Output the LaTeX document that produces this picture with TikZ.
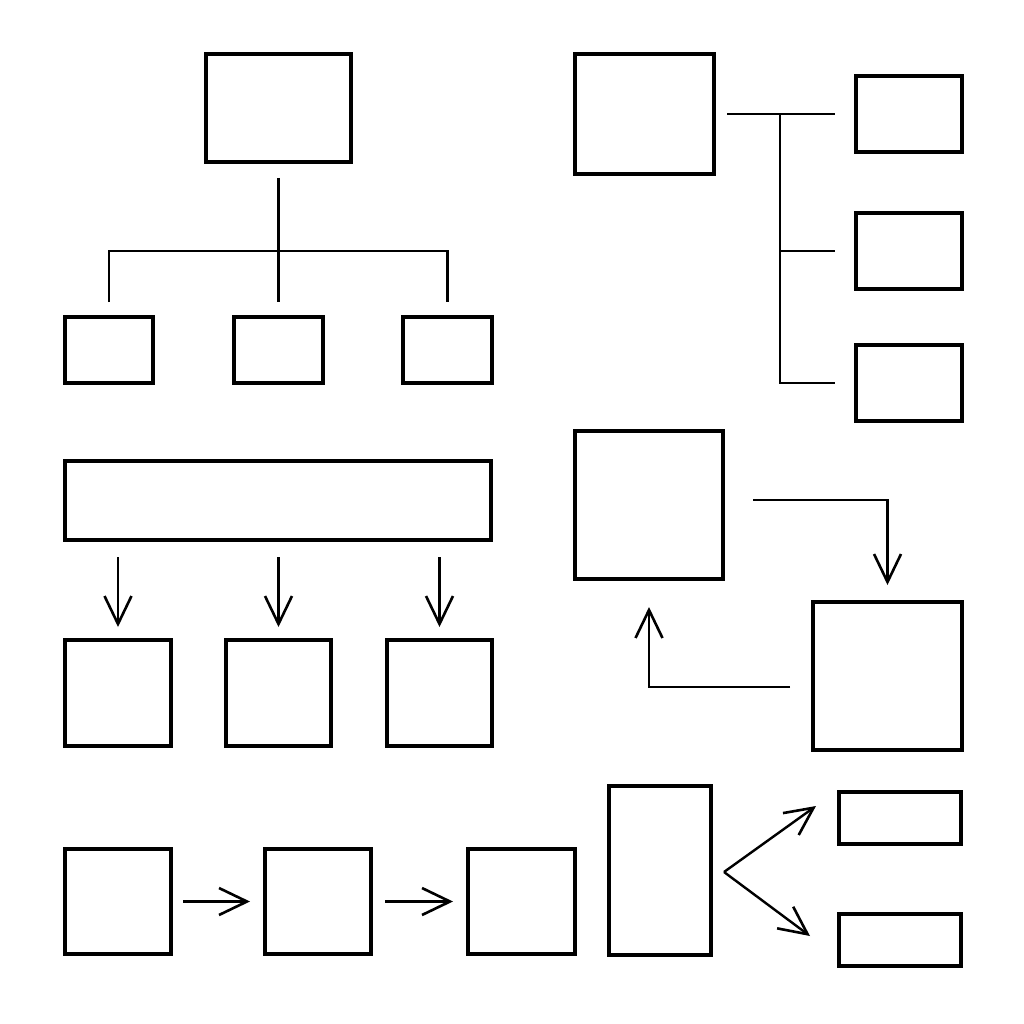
\documentclass[tikz,border=0pt]{standalone}
\usetikzlibrary{arrows.meta}
\begin{document}
\begin{tikzpicture}[x=1pt,y=-1pt,
  box/.style={draw=black,line width=3.1pt,inner sep=0pt,outer sep=0pt,anchor=north west},
  conn/.style={draw=black,line width=2.4pt},
  arr/.style={conn,-{Straight Barb[length=28pt,width=27pt,line width=2.6pt]}}]
\useasboundingbox[fill=white] (0,0) rectangle (1024,1024);
% hierarchy (top left)
\node[box,minimum width=145pt,minimum height=108pt] (A) at (206,54) {};
\node[box,minimum width=88pt,minimum height=66pt] (B1) at (65,317) {};
\node[box,minimum width=89pt,minimum height=66pt] (B2) at (234,317) {};
\node[box,minimum width=89pt,minimum height=66pt] (B3) at (403,317) {};
\draw[conn] ([yshift=-16pt]A.south) -- ([yshift=15pt]B2.north);
\draw[conn] ([yshift=15pt]B1.north) -- ++(0,-51) -| ([yshift=15pt]B3.north);
% tree (top right)
\node[box,minimum width=139pt,minimum height=120pt] (C) at (575,54) {};
\node[box,minimum width=106pt,minimum height=76pt] (D1) at (856,76) {};
\node[box,minimum width=106pt,minimum height=76pt] (D2) at (856,213) {};
\node[box,minimum width=106pt,minimum height=76pt] (D3) at (856,345) {};
\coordinate (trunk) at (780,114);
\draw[conn] ([xshift=13pt]C.east) -- ([xshift=-21pt]D1.west);
\draw[conn] (trunk) |- ([xshift=-21pt]D3.west);
\draw[conn] (trunk |- D2.west) -- ([xshift=-21pt]D2.west);
% wide box with three arrows
\node[box,minimum width=426pt,minimum height=79pt] (E) at (65,461) {};
\node[box,minimum width=106pt,minimum height=106pt] (F1) at (65,640) {};
\node[box,minimum width=105pt,minimum height=106pt] (F2) at (226,640) {};
\node[box,minimum width=105pt,minimum height=106pt] (F3) at (387,640) {};
\foreach \f in {F1,F2,F3}
  \draw[arr] ([yshift=-17pt]E.south -| \f.north) -- ([yshift=13pt]\f.north);
% loop (middle right)
\node[box,minimum width=148pt,minimum height=148pt] (G) at (575,431) {};
\node[box,minimum width=149pt,minimum height=148pt] (H) at (813,602) {};
\draw[arr] ([xshift=30pt,yshift=5pt]G.east) -| ([yshift=17pt]H.north);
\draw[arr] ([xshift=-23pt,yshift=-11pt]H.west) -| ([yshift=-28pt]G.south);
% bottom row
\node[box,minimum width=106pt,minimum height=105pt] (K1) at (65,849) {};
\node[box,minimum width=106pt,minimum height=105pt] (K2) at (265,849) {};
\node[box,minimum width=107pt,minimum height=105pt] (K3) at (468,849) {};
\draw[arr] ([xshift=12pt]K1.east) -- ([xshift=-15pt]K2.west);
\draw[arr] ([xshift=14pt]K2.east) -- ([xshift=-15pt]K3.west);
\node[box,minimum width=102pt,minimum height=169pt] (L) at (609,786) {};
\node[box,minimum width=122pt,minimum height=52pt] (M1) at (839,792) {};
\node[box,minimum width=122pt,minimum height=52pt] (M2) at (839,914) {};
\coordinate (apex) at (724,872);
\coordinate (t1) at (816,806);
\coordinate (t2) at (810,936);
\draw[arr] (apex) -- (t1);
\draw[arr] (apex) -- (t2);
\end{tikzpicture}
\end{document}
